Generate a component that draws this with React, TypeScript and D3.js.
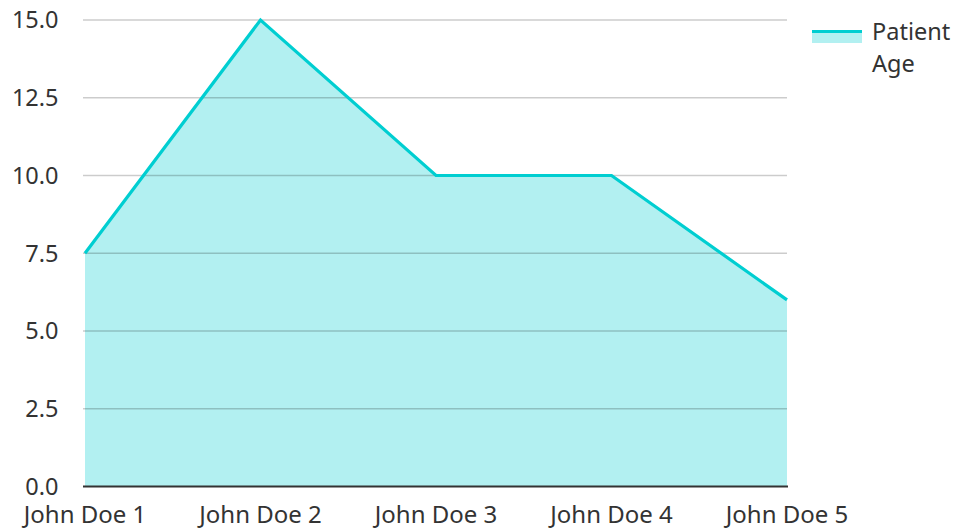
import React, { useEffect, useRef } from "react";
import * as d3 from "d3";

const categories = ["John Doe 1", "John Doe 2", "John Doe 3", "John Doe 4", "John Doe 5"];
const ages = [7.5, 15, 10, 10, 6];
const yTicks = [0, 2.5, 5, 7.5, 10, 12.5, 15];
const seriesName = ["Patient", "Age"];

const W = 957;
const H = 529;
const FONT = "'Noto Sans', 'Open Sans', sans-serif";
const LINE = "#00CED1";
const FILL = "rgba(0,206,209,0.3)";

export default function App() {
  const ref = useRef<SVGSVGElement>(null);
  useEffect(() => {
    const svg = d3.select(ref.current);
    svg.selectAll("*").remove();
    const left = 85, right = 787, top = 20, bottom = 486.5;
    const x = d3.scalePoint<string>().domain(categories).range([left, right]);
    const y = d3.scaleLinear().domain([0, 15]).range([bottom, top]);
    const data = categories.map((c, i) => ({ c, v: ages[i] }));

    const area = d3.area<{ c: string; v: number }>()
      .x(d => x(d.c)!).y0(y(0)).y1(d => y(d.v));
    svg.append("path").attr("d", area(data)!).attr("fill", FILL);

    // gridlines
    svg.append("g").selectAll("line").data(yTicks.filter(t => t > 0)).join("line")
      .attr("x1", left - 2).attr("x2", right)
      .attr("y1", d => y(d)).attr("y2", d => y(d))
      .attr("stroke", "rgba(0,0,0,0.2)").attr("stroke-width", 1.5);

    const line = d3.line<{ c: string; v: number }>().x(d => x(d.c)!).y(d => y(d.v));
    svg.append("path").attr("d", line(data)!).attr("fill", "none")
      .attr("stroke", LINE).attr("stroke-width", 3.2).attr("stroke-linejoin", "miter");

    // x axis line
    svg.append("line").attr("x1", left - 2).attr("x2", right + 1)
      .attr("y1", bottom).attr("y2", bottom).attr("stroke", "#333").attr("stroke-width", 2);

    // y labels
    svg.append("g").selectAll("text").data(yTicks).join("text")
      .attr("x", 58.5).attr("y", d => y(d)).attr("dy", "0.36em")
      .attr("text-anchor", "end").attr("font-family", FONT).attr("font-size", 23.5)
      .attr("fill", "#333").text(d => d.toFixed(1));

    // x labels
    svg.append("g").selectAll("text").data(categories).join("text")
      .attr("x", d => x(d)!).attr("y", 523)
      .attr("text-anchor", "middle").attr("font-family", FONT).attr("font-size", 24)
      .attr("fill", "#333").text(d => d);

    // legend
    const lg = svg.append("g");
    lg.append("rect").attr("x", 812).attr("y", 31).attr("width", 50).attr("height", 12).attr("fill", FILL);
    lg.append("line").attr("x1", 812).attr("x2", 862).attr("y1", 31.5).attr("y2", 31.5)
      .attr("stroke", LINE).attr("stroke-width", 3);
    lg.selectAll("text").data(seriesName).join("text")
      .attr("x", 872).attr("y", (_d, i) => 40 + i * 32)
      .attr("font-family", FONT).attr("font-size", 23.5).attr("fill", "#333").text(d => d);
  }, []);
  return (
    <svg ref={ref} width={W} height={H} style={{ position: "absolute", left: 0, top: 0, background: "#fff" }} />
  );
}
